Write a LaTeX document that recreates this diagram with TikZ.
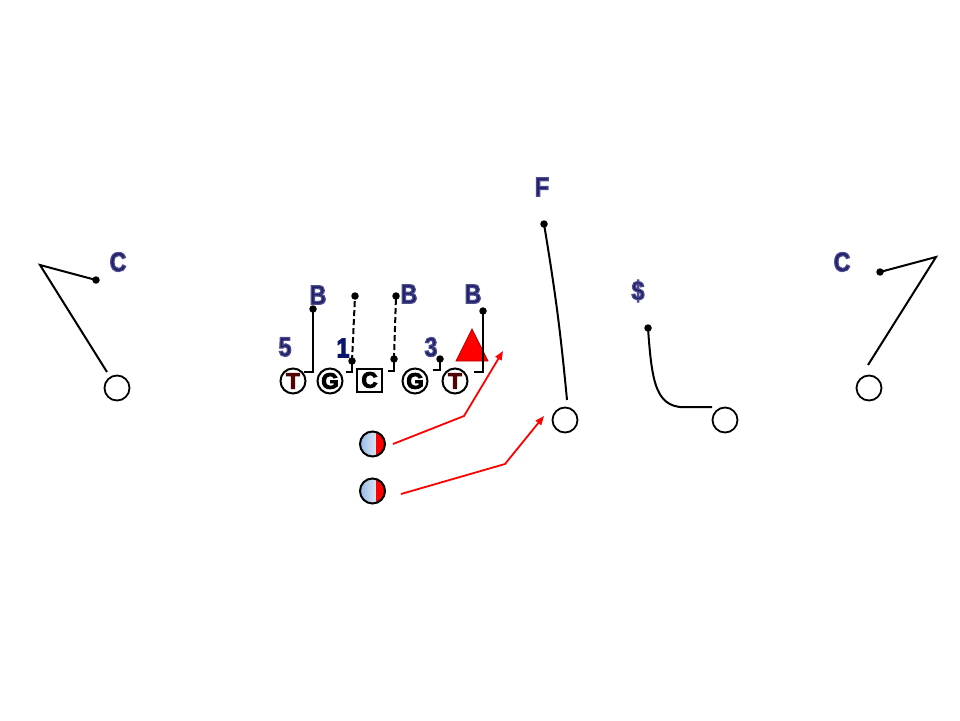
\documentclass[tikz,border=0pt]{standalone}
\usepackage{fontspec}
\setmainfont{Liberation Sans}
\newfontfamily\lblfont[FakeStretch=0.85]{Liberation Sans}
\usetikzlibrary{arrows.meta,calc}
\definecolor{navy}{RGB}{32,32,105}
\definecolor{darknavy}{RGB}{10,20,110}
\definecolor{tred}{RGB}{80,5,5}
\definecolor{lblue}{RGB}{150,185,230}
\newcommand{\outl}[1]{{\special{pdf:literal direct 2 Tr 1.2 w 0.30 0.30 0.56 RG}#1\special{pdf:literal direct 0 Tr}}}
\newcommand{\heavy}[1]{{\special{pdf:literal direct 2 Tr 1.1 w}#1\special{pdf:literal direct 0 Tr}}}
\tikzset{
  lbl/.style={text=navy,font=\lblfont\bfseries\fontsize{27}{27}\selectfont,inner sep=0pt},
  oplayer/.style={circle,draw,line width=2pt,minimum size=25pt,inner sep=0pt,font=\bfseries\fontsize{22}{22}\selectfont},
  opc/.style={rectangle,draw,line width=2pt,minimum width=25pt,minimum height=23pt,inner sep=0pt,font=\bfseries\fontsize{22}{22}\selectfont},
  def/.style={circle,draw,line width=1.8pt,minimum size=25pt,inner sep=0pt},
  dot/.style={circle,fill=black,minimum size=7.5pt,inner sep=0pt},
  route/.style={line width=2pt},
  blk/.style={route,dash pattern=on 6pt off 3pt},
  rush/.style={red,line width=1.8pt,-{Triangle[length=9pt,width=7pt]}},
  split/.style={circle,draw,line width=2pt,minimum size=25pt,inner sep=0pt,
    path picture={
      \shade[left color=lblue,right color=white]
        (path picture bounding box.south west) rectangle ([xshift=3pt]path picture bounding box.north);
      \fill[red] ([xshift=3pt]path picture bounding box.north) rectangle (path picture bounding box.south east);
    }},
}
\begin{document}
\begin{tikzpicture}[x=1pt,y=-1pt]
\useasboundingbox (0,0) rectangle (960,720);
% offensive line
\node[oplayer,text=tred] (t1) at (293,381) {\heavy{T}};
\node[oplayer] (g1) at (330,381) {\heavy{G}};
\node[opc] (c) at (369.5,380) {\heavy{C}};
\node[oplayer] (g2) at (415,381) {\heavy{G}};
\node[oplayer,text=tred] (t2) at (455,381) {\heavy{T}};
% labels
\node[lbl] (lb1) at (318,295) {\outl{B}};
\node[lbl] (lb2) at (409,294) {\outl{B}};
\node[lbl] (lb3) at (473,294) {\outl{B}};
\node[lbl] (l5) at (285,347) {\outl{5}};
\node[lbl,text=darknavy] (l1) at (343,348) {\heavy{1}};
\node[lbl] (l3) at (431,347) {\outl{3}};
\node[lbl] (lf) at (542,187) {\outl{F}};
\node[lbl] (ls) at (638,291) {\outl{\$}};
\node[lbl] (lcl) at (118,262) {\outl{C}};
\node[lbl] (lcr) at (842,262) {\outl{C}};
% triangle
\path[draw=red!70!black,fill=red,line width=0.8pt] (472,329) -- (488,361) -- (456,361) -- cycle;
% blocking dots
\node[dot] (d1) at (313,309) {};
\node[dot] (d2a) at (352,361) {};
\node[dot] (d2b) at (355,296) {};
\node[dot] (d3a) at (394,359) {};
\node[dot] (d3b) at (396,296) {};
\node[dot] (d4) at (440,359) {};
\node[dot] (d5) at (483,311) {};
\coordinate (s1) at (304,372);
\coordinate (s2) at (346,372);
\coordinate (s3) at (388,371);
\coordinate (s4) at (433,370);
\coordinate (s5) at (474,372);
\draw[route] (s1) -| (d1.center);
\draw[route] (s2) -| (d2a.center);
\draw[blk] (d2a.center) -- (d2b.center);
\draw[route] (s3) -| (d3a.center);
\draw[blk] (d3a.center) -- (d3b.center);
\draw[route] (s4) -| (d4.center);
\draw[route] (s5) -| (d5.center);
% blitzers
\node[split] (p1) at (372.5,444) {};
\node[split] (p2) at (372.5,491) {};
\coordinate (k1) at (464,416);
\coordinate (e1) at (503,351);
\coordinate (k2) at (505,464);
\coordinate (e2) at (544,416);
\draw[rush] ([xshift=7pt]p1.east) -- (k1) -- (e1);
\draw[rush] ([xshift=15pt,yshift=-3pt]p2.east) -- (k2) -- (e2);
% defenders
\node[def] (cl) at (117,388) {};
\node[def] (f) at (565,420) {};
\node[def] (sf) at (725,420) {};
\node[def] (cr) at (869,388) {};
\node[dot] (dcl) at (96,280) {};
\node[dot] (dcr) at (880,272) {};
\node[dot] (df) at (544,224) {};
\node[dot] (ds) at (648,328) {};
\coordinate (vcl) at (40,265);
\coordinate (vcr) at (936,257);
\coordinate (ecl) at (107,372);
\coordinate (ecr) at (868,365);
\coordinate (ef) at (567,400);
\coordinate (es) at (712,407);
\draw[route] (ecl) -- (vcl) -- (dcl.center);
\draw[route] (ecr) -- (vcr) -- (dcr.center);
\draw[route] (ef) to[bend right=2] (df.center);
\draw[route] (ds.center) .. controls (652,385) and (656,410) .. (690,407) -- (es);
\end{tikzpicture}
\end{document}
